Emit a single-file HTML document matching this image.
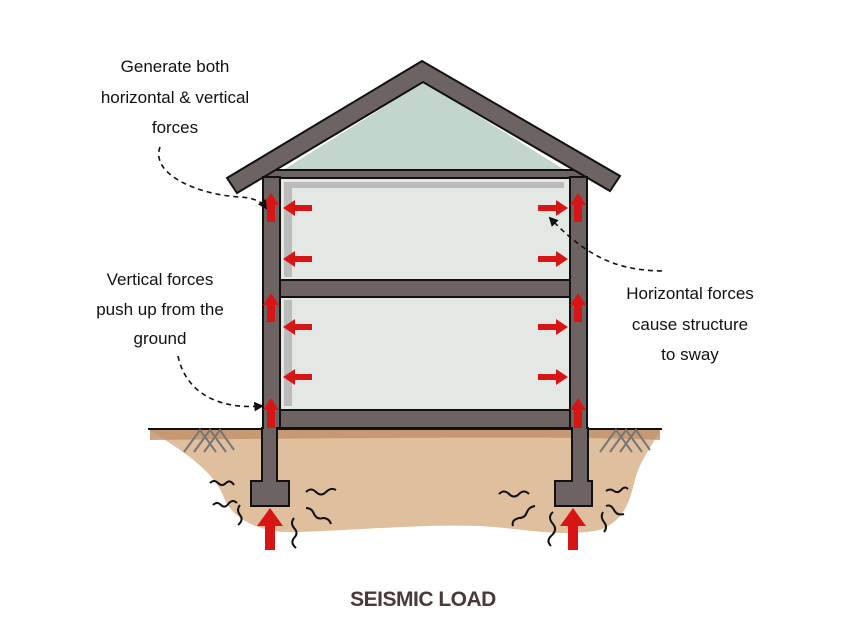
<!DOCTYPE html>
<html><head><style>
body{margin:0;background:#fff;}
svg{display:block}
.t{font-family:"Liberation Sans",sans-serif;font-size:17px;fill:#111;text-anchor:middle}
</style></head><body>
<svg width="846" height="638" viewBox="0 0 846 638" xmlns="http://www.w3.org/2000/svg">
<defs>
<marker id="ah" viewBox="0 0 10 10" refX="8" refY="5" markerWidth="6" markerHeight="6" orient="auto"><path d="M0,0L10,5L0,10z" fill="#111"/></marker>
</defs>
<!-- soil -->
<path d="M150,430 L660,430 C650,450 640,460 635,480 C630,500 625,520 600,530 C560,538 520,528 480,526 C420,524 360,530 300,532 C260,534 235,520 225,500 C215,470 180,450 150,430 Z" fill="#dfbf9e"/>
<path d="M150,430 L660,430 L660,440 C600,436 300,438 150,440 Z" fill="#c09066" opacity="0.8"/>
<line x1="148" y1="429" x2="662" y2="429" stroke="#111" stroke-width="2"/>
<g stroke="#777" stroke-width="2" fill="none">
<path d="M184,452 L200,430 L216,452 M194,452 L210,430 L226,452 M204,452 L220,430 L234,450"/>
<path d="M600,452 L616,430 L632,452 M610,452 L626,430 L642,452 M620,452 L636,430 L650,450"/>
</g>
<!-- gable -->
<path d="M280,172 L424,82 L568,172 Z" fill="#c3d6cc"/>
<!-- rooms -->
<rect x="280" y="177" width="290" height="103" fill="#e3e8e5" stroke="#111" stroke-width="2"/>
<rect x="280" y="297" width="290" height="113" fill="#e3e8e5" stroke="#111" stroke-width="2"/>
<rect x="284" y="182" width="8" height="95" fill="#bbb"/>
<rect x="284" y="182" width="280" height="6" fill="#bbb"/>
<rect x="284" y="300" width="8" height="106" fill="#bbb"/>
<!-- ceiling beam -->
<rect x="263" y="170" width="324" height="8" fill="#6e6363" stroke="#111" stroke-width="2"/>
<!-- roof -->
<path d="M227,178 L422,61 L620,176 L610,191 L423,82 L237,193 Z" fill="#6e6363" stroke="#111" stroke-width="2"/>
<!-- columns & beams -->
<g fill="#6e6363" stroke="#111" stroke-width="2">
<rect x="280" y="280" width="290" height="17"/>
<rect x="263" y="410" width="324" height="18"/>
<path d="M263,177 L280,177 L280,428 L277,428 L277,481 L289,481 L289,506 L251,506 L251,481 L262,481 L262,428 L263,428 Z"/>
<path d="M570,177 L587,177 L587,428 L588,428 L588,481 L592,481 L592,506 L555,506 L555,481 L572,481 L572,428 L570,428 Z"/>
</g>
<!-- red arrows -->
<g fill="#d81515">
<!-- vertical in columns -->
<path d="M267,222 L267,205 L263,205 L271,193 L279,205 L275,205 L275,222 Z"/>
<path d="M267,322 L267,305 L263,305 L271,293 L279,305 L275,305 L275,322 Z"/>
<path d="M267,428 L267,410 L263,410 L271,398 L279,410 L275,410 L275,428 Z"/>
<path d="M574,222 L574,205 L570,205 L578,193 L586,205 L582,205 L582,222 Z"/>
<path d="M574,322 L574,305 L570,305 L578,293 L586,305 L582,305 L582,322 Z"/>
<path d="M574,428 L574,410 L570,410 L578,398 L586,410 L582,410 L582,428 Z"/>
<!-- bottom big -->
<path d="M265,550 L265,526 L257,526 L270,508 L283,526 L275,526 L275,550 Z"/>
<path d="M568,550 L568,526 L560,526 L573,508 L586,526 L578,526 L578,550 Z"/>
</g>
<g fill="#d81515">
<path id="la" d="M283,208 L295,200 L295,205 L312,205 L312,211 L295,211 L295,216 Z"/>
<use href="#la" y="51"/><use href="#la" y="119"/><use href="#la" y="169"/>
<path id="ra" d="M568,208 L556,200 L556,205 L538,205 L538,211 L556,211 L556,216 Z"/>
<use href="#ra" y="51"/><use href="#ra" y="119"/><use href="#ra" y="169"/>
</g>
<!-- squiggles -->
<g stroke="#111" stroke-width="2" fill="none">
<path d="M210,483 q4,-4 8,0 q4,4 8,0 q4,-4 8,2"/>
<path d="M213,505 q4,-4 8,0 q4,4 8,-2 q4,-4 8,0"/>
<path d="M240,505 q-4,5 0,10 q4,5 -2,10"/>
<path d="M306,492 q5,-5 10,0 q5,5 10,0 q5,-5 10,-2"/>
<path d="M306,508 q6,0 8,6 q3,6 9,4 q6,0 8,6"/>
<path d="M294,518 q-4,5 0,10 q5,5 0,10 q-4,5 2,10"/>
<path d="M499,494 q5,-5 10,0 q5,5 10,0 q5,-5 10,0"/>
<path d="M513,526 q-2,-6 6,-8 q6,0 8,-6 q2,-5 8,-6"/>
<path d="M553,512 q-6,5 0,12 q5,6 -2,12 q-5,5 0,10"/>
<path d="M606,491 q4,-3 8,0 q4,3 8,-2 q3,-3 6,0"/>
<path d="M606,506 q5,-2 8,4 q3,6 10,4"/>
<path d="M603,512 q-3,5 1,10 q4,5 0,10"/>
</g>
<!-- dashed leaders -->
<g stroke="#111" stroke-width="1.6" fill="none" stroke-dasharray="5,4">
<path d="M160,147 C150,175 200,195 240,197 C255,198 262,202 266,208" marker-end="url(#ah)"/>
<path d="M178,356 C185,390 215,410 262,406" marker-end="url(#ah)"/>
<path d="M662,271 C620,270 590,260 550,218" marker-end="url(#ah)"/>
</g>
<!-- text -->
<text class="t" x="175" y="72">Generate both</text>
<text class="t" x="175" y="103">horizontal &amp; vertical</text>
<text class="t" x="175" y="133">forces</text>
<text class="t" x="160" y="285">Vertical forces</text>
<text class="t" x="160" y="315">push up from the</text>
<text class="t" x="160" y="344">ground</text>
<text class="t" x="690" y="299">Horizontal forces</text>
<text class="t" x="690" y="330">cause structure</text>
<text class="t" x="690" y="360">to sway</text>
<text x="423" y="606" text-anchor="middle" font-family="Liberation Sans, sans-serif" font-weight="bold" font-size="21" fill="#4a3b38" letter-spacing="-0.5">SEISMIC LOAD</text>
</svg>
</body></html>
